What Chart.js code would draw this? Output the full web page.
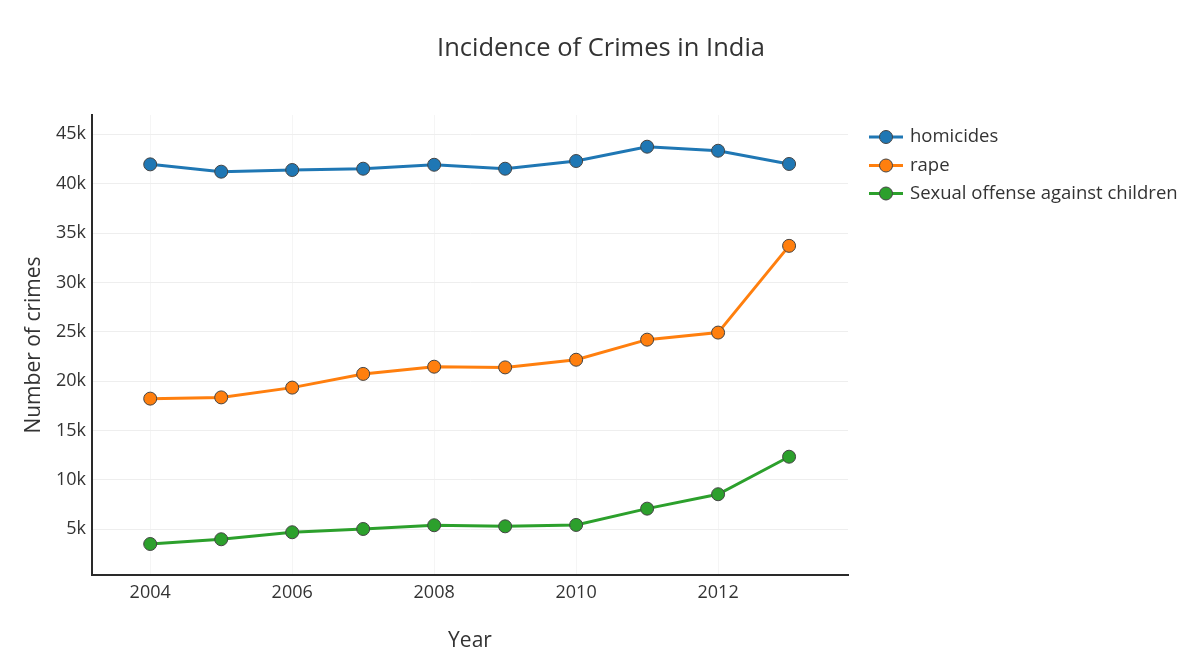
<!DOCTYPE html>
<html>
<head>
<meta charset="utf-8">
<script src="https://cdn.jsdelivr.net/npm/chart.js@4"></script>
<style>
  body { margin: 0; background: #fff; }
  canvas { display: block; }
</style>
</head>
<body>
<canvas id="chart" width="1200" height="668"></canvas>
<script>
// =====================
// DATA
// =====================
const years = [2004, 2005, 2006, 2007, 2008, 2009, 2010, 2011, 2012, 2013]
const homicides = [41960, 41220, 41390, 41520, 41920, 41520, 42300, 43750, 43340, 42000]
const rape = [18233, 18359, 19348, 20737, 21467, 21397, 22172, 24206, 24923, 33707]
const childOffenses = [3510, 3990, 4700, 5030, 5410, 5300, 5440, 7090, 8550, 12350]

const seriesNames = ["homicides", "rape", "Sexual offense against children"]
const xTicks = [2004, 2006, 2008, 2010, 2012]
const yTicks = [5000, 10000, 15000, 20000, 25000, 30000, 35000, 40000, 45000]

const colors = ["#1f77b4", "#ff7f0e", "#2ca02c"]
const FONT = "'Open Sans', sans-serif"
const TEXT = "#333"

function toPoints(values){
  return years.map((yr, i) => ({ x: yr, y: values[i] }))
}

const datasets = [homicides, rape, childOffenses].map((vals, i) => ({
  label: seriesNames[i],
  data: toPoints(vals),
  borderColor: colors[i],
  backgroundColor: colors[i],
  borderWidth: 3,
  pointRadius: 6.5,
  pointBorderColor: "#444",
  pointBorderWidth: 1,
  pointBackgroundColor: colors[i],
  tension: 0
}))

// =====================
// TITLE + LEGEND PLUGIN
// =====================
const decorations = {
  id: "decorations",
  afterDraw(chart){
    const ctx = chart.ctx
    ctx.save()
    // title
    ctx.fillStyle = TEXT
    ctx.font = "25.5px " + FONT
    ctx.textAlign = "center"
    ctx.textBaseline = "middle"
    ctx.fillText("Incidence of Crimes in India", 601, 49)

    // legend
    ctx.font = "18.5px " + FONT
    ctx.textAlign = "left"
    const rows = [137, 165.5, 193.5]
    seriesNames.forEach((name, i) => {
      const y = rows[i]
      ctx.strokeStyle = colors[i]
      ctx.lineWidth = 3
      ctx.beginPath()
      ctx.moveTo(869, y)
      ctx.lineTo(903, y)
      ctx.stroke()
      ctx.beginPath()
      ctx.arc(886, y, 6.5, 0, Math.PI * 2)
      ctx.fillStyle = colors[i]
      ctx.fill()
      ctx.lineWidth = 1
      ctx.strokeStyle = "#444"
      ctx.stroke()
      ctx.fillStyle = TEXT
      ctx.fillText(name, 910, y)
    })
    ctx.restore()
  }
}

// =====================
// CHART
// =====================
new Chart(document.getElementById("chart"), {
  type: "line",
  data: { datasets },
  plugins: [decorations],
  options: {
    responsive: false,
    animation: false,
    layout: { padding: { top: 115, right: 352, left: 0, bottom: 0 } },
    plugins: {
      legend: { display: false },
      title: { display: false },
      tooltip: { enabled: false }
    },
    scales: {
      x: {
        type: "linear",
        min: 2003.18,
        max: 2013.83,
        afterBuildTicks: s => { s.ticks = xTicks.map(v => ({ value: v })) },
        afterFit: s => { s.height = 93 },
        grid: { color: "#f5f5f5", lineWidth: 1, drawTicks: false },
        border: { display: true, color: "#2a2a2a", width: 2 },
        ticks: {
          padding: 7,
          color: TEXT,
          font: { family: FONT, size: 18 },
          maxRotation: 0,
          callback: v => String(v)
        },
        title: {
          display: true,
          text: "Year",
          color: TEXT,
          font: { family: FONT, size: 21 },
          padding: { top: 0, bottom: 14.4 }
        }
      },
      y: {
        min: 370,
        max: 46960,
        afterBuildTicks: s => { s.ticks = yTicks.map(v => ({ value: v })) },
        afterFit: s => { s.width = 92 },
        grid: { color: "#eeeeee", lineWidth: 1, drawTicks: false },
        border: { display: true, color: "#2a2a2a", width: 2 },
        ticks: {
          padding: 6,
          color: TEXT,
          font: { family: FONT, size: 18 },
          callback: v => (v / 1000) + "k"
        },
        title: {
          display: true,
          text: "Number of crimes",
          color: TEXT,
          font: { family: FONT, size: 21 },
          padding: { top: 21.4, bottom: 0 }
        }
      }
    }
  }
})
</script>
</body>
</html>
